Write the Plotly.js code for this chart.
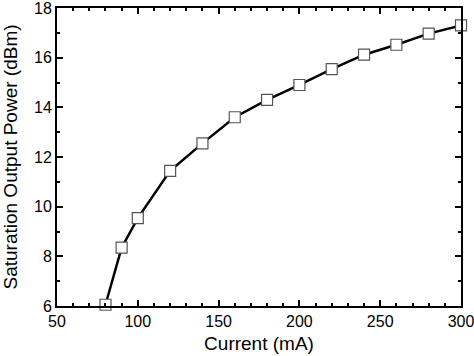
<!DOCTYPE html>
<html><head><meta charset="utf-8">
<script src="https://cdn.plot.ly/plotly-3.0.1.min.js"></script>
<style>html,body{margin:0;padding:0;background:#fff}</style>
</head><body><div id="chart" style="width:474px;height:356px"></div>
<script>
var current = [80, 90, 100, 120, 140, 160, 180, 200, 220, 240, 260, 280, 300];
var power = [6.05, 8.35, 9.54, 11.44, 12.55, 13.6, 14.3, 14.9, 15.54, 16.12, 16.52, 16.97, 17.3];
var xTickVals = [50, 100, 150, 200, 250, 300];
var yTickVals = [6, 8, 10, 12, 14, 16, 18];

var FONT = 'Liberation Sans, Arial, sans-serif';
var trace = {
  x: current, y: power, type: 'scatter', mode: 'lines+markers',
  line: {color: '#000', width: 2.5},
  marker: {symbol: 'square', size: 11, color: '#fff', line: {color: '#555', width: 1.2}},
  cliponaxis: false, showlegend: false
};
var axisCommon = {
  showgrid: false, zeroline: false, showline: true, linecolor: '#000', linewidth: 2,
  mirror: 'ticks', ticks: 'inside', ticklen: 6, tickwidth: 2, tickcolor: '#000',
  ticklabeloverflow: 'allow',
  tickfont: {family: FONT, size: 16, color: '#000'}
};
var layout = {
  width: 474, height: 356,
  margin: {l: 57, r: 13, t: 8, b: 50},
  paper_bgcolor: '#fff', plot_bgcolor: '#fff',
  xaxis: Object.assign({}, axisCommon, {
    range: [50, 300.0001], tickvals: xTickVals, ticktext: xTickVals.map(String),
    minor: {dtick: 10, ticks: 'inside', ticklen: 3, tickwidth: 2, tickcolor: '#000', showgrid: false},
    title: {text: 'Current (mA)', font: {family: FONT, size: 19, color: '#000'}, standoff: 7}
  }),
  yaxis: Object.assign({}, axisCommon, {
    range: [5.9999, 18.0001], tickvals: yTickVals, ticktext: yTickVals.map(String),
    minor: {dtick: 1, ticks: 'inside', ticklen: 3, tickwidth: 2, tickcolor: '#000', showgrid: false},
    title: {text: 'Saturation Output Power (dBm)', font: {family: FONT, size: 19, color: '#000'}, standoff: 11}
  })
};
Plotly.newPlot('chart', [trace], layout, {displayModeBar: false, staticPlot: true});
</script></body></html>
